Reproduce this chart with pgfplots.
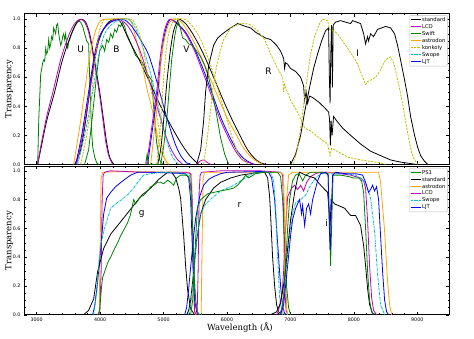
\documentclass[border=0pt]{standalone}
\usepackage{pgfplots}
\pgfplotsset{compat=1.18}
\usepackage{fontspec}
\setmainfont{DejaVu Serif}
\newfontfamily\sansf{DejaVu Sans}
\definecolor{lcoc}{RGB}{191,0,191}
\definecolor{greenc}{RGB}{0,128,0}
\definecolor{orangec}{RGB}{255,165,0}
\definecolor{konkc}{RGB}{191,191,0}
\definecolor{cyanc}{RGB}{0,191,191}
\definecolor{bluec}{RGB}{0,0,255}
\tikzset{
 std/.style={black,line width=0.8pt},
 lco/.style={lcoc,line width=0.8pt},
 swift/.style={greenc,line width=0.8pt},
 astro/.style={orangec,line width=0.8pt},
 konk/.style={konkc,line width=0.8pt,dash pattern=on 2.2pt off 1.2pt},
 swope/.style={cyanc,line width=0.8pt,dash pattern=on 2.6pt off 0.8pt on 0.6pt off 0.8pt},
 ljt/.style={bluec,line width=0.8pt},
}
\pgfplotsset{
 myax/.style={
  scale only axis, width=425bp,
  xmin=2800, xmax=9500, ymin=0,
  xtick={3000,4000,5000,6000,7000,8000,9000},
  ytick={0,0.2,0.4,0.6,0.8,1},
  minor x tick num=4, minor y tick num=3,
  tick align=inside, tick pos=both,
  major tick length=3bp, minor tick length=1.5bp,
  tick style={line width=0.4pt,black},
  axis line style={line width=0.5pt},
  ticklabel style={font=\sansf\fontsize{4.8}{5.5}\selectfont},
  /pgf/number format/assume math mode=true,
  /pgf/number format/1000 sep={},
  yticklabel={\pgfmathprintnumber[fixed,fixed zerofill,precision=1]{\tick}},
  scaled x ticks=false,
  ylabel={Transparency},
  every axis y label/.style={at={(axis description cs:-0.035,0.5)},rotate=90,anchor=center,font=\fontsize{8.5}{10}\selectfont},
  legend cell align=left,
  legend image code/.code={\draw[##1] (0bp,0bp) -- (10bp,0bp);},
  legend style={at={(1,1)},anchor=north east,xshift=-1.5bp,yshift=-1.5bp,
   font=\sansf\fontsize{5.3}{6}\selectfont,draw=gray!50,rounded corners=1pt,
   inner sep=0.8pt,row sep=-0.3pt,nodes={inner sep=1pt,text height=4.1pt,text depth=1.2pt}},
 }
}
\begin{document}
\begin{tikzpicture}
\useasboundingbox (0,0) rectangle (474bp,339bp);
% ================= TOP PANEL =================
\begin{axis}[myax, at={(24bp,174.7bp)}, anchor=south west, height=150.6bp, ymax=1.038, xticklabels={}]
% Swift U
\addplot[swift,forget plot] coordinates {(3016,0)(3032,0.3)(3063,0.62)(3095,0.7)(3110,0.72)(3126,0.71)(3142,0.8)(3158,0.76)(3173,0.78)(3189,0.86)(3205,0.8)(3221,0.83)(3236,0.88)(3252,0.86)(3268,0.94)(3284,0.92)(3299,0.9)(3315,0.96)(3331,0.97)(3347,0.9)(3362,0.86)(3378,0.82)(3394,0.84)(3410,0.88)(3426,0.9)(3441,0.86)(3457,0.9)(3473,0.82)(3489,0.8)(3504,0.84)(3536,0.88)(3567,0.92)(3599,0.95)(3630,0.98)(3662,0.99)(3693,0.98)(3725,0.95)(3756,0.9)(3788,0.85)(3819,0.83)(3835,0.6)(3851,0.4)(3867,0.22)(3883,0.12)(3914,0.05)(3946,0.01)(3977,0)};
% standard U
\addplot[std,smooth,forget plot] coordinates {(3016,0)(3063,0.1)(3158,0.3)(3284,0.5)(3394,0.7)(3504,0.85)(3599,0.95)(3662,0.99)(3709,1.0)(3772,0.98)(3835,0.9)(3898,0.75)(3993,0.5)(4056,0.3)(4103,0.15)(4150,0.05)(4213,0)};
% LCO U
\addplot[lco,smooth,forget plot] coordinates {(3016,0)(3063,0.12)(3158,0.33)(3268,0.52)(3378,0.72)(3489,0.87)(3583,0.96)(3646,0.99)(3693,1.0)(3756,0.98)(3819,0.91)(3883,0.77)(3977,0.52)(4040,0.32)(4087,0.16)(4135,0.06)(4198,0)};
% Swift B
\addplot[swift,forget plot] coordinates {(3756,0)(3819,0.1)(3883,0.35)(3946,0.62)(3993,0.78)(4040,0.82)(4072,0.78)(4103,0.86)(4135,0.84)(4166,0.9)(4198,0.87)(4229,0.93)(4261,0.91)(4292,0.96)(4324,0.95)(4355,0.98)(4387,0.95)(4418,0.9)(4450,0.87)(4513,0.8)(4560,0.75)(4607,0.73)(4670,0.7)(4749,0.62)(4812,0.58)(4844,0.4)(4891,0.15)(4938,0.03)(4986,0)};
% standard B
\addplot[std,smooth,forget plot] coordinates {(3599,0)(3693,0.1)(3772,0.3)(3867,0.6)(3946,0.8)(4040,0.92)(4135,0.98)(4229,1.0)(4324,0.98)(4450,0.86)(4639,0.7)(4797,0.55)(4954,0.4)(5112,0.27)(5269,0.15)(5412,0.06)(5553,0)};
% astrodon B
\addplot[astro,smooth,forget plot] coordinates {(3583,0)(3693,0.3)(3819,0.7)(3914,0.9)(4009,0.99)(4166,1.0)(4450,1.0)(4513,0.95)(4592,0.82)(4639,0.74)(4702,0.6)(4749,0.5)(4797,0.42)(4844,0.33)(4907,0.19)(4954,0.1)(5001,0.05)(5080,0)};
% LCO B
\addplot[lco,smooth,forget plot] coordinates {(3630,0)(3725,0.2)(3835,0.5)(3930,0.75)(4009,0.9)(4135,0.97)(4277,1.0)(4403,0.97)(4513,0.9)(4639,0.77)(4734,0.64)(4828,0.5)(4923,0.36)(5017,0.22)(5112,0.11)(5206,0.04)(5301,0)};
% LJT B
\addplot[ljt,smooth,forget plot] coordinates {(3615,0)(3709,0.2)(3819,0.5)(3898,0.72)(3961,0.85)(4056,0.93)(4166,0.98)(4355,1.0)(4481,0.96)(4607,0.88)(4749,0.77)(4828,0.67)(4907,0.55)(5001,0.4)(5080,0.28)(5175,0.15)(5269,0.06)(5364,0.01)(5427,0)};
% Swope B
\addplot[swope,smooth,forget plot] coordinates {(3646,0)(3756,0.2)(3883,0.5)(3977,0.75)(4072,0.9)(4198,0.97)(4355,1.0)(4450,1.0)(4544,0.95)(4639,0.85)(4749,0.7)(4828,0.57)(4907,0.42)(4986,0.27)(5065,0.14)(5143,0.05)(5238,0)};
% konkoly B
\addplot[konk,smooth,forget plot] coordinates {(3693,0)(3788,0.2)(3851,0.4)(3914,0.7)(3977,0.9)(4040,0.98)(4103,1.0)(4481,1.0)(4544,0.97)(4592,0.93)(4639,0.87)(4686,0.78)(4749,0.62)(4797,0.52)(4844,0.44)(4907,0.3)(4954,0.18)(5001,0.07)(5049,0)};
% LJT V
\addplot[ljt,smooth,forget plot] coordinates {(4749,0)(4812,0.2)(4860,0.35)(4907,0.5)(4954,0.7)(5001,0.86)(5049,0.95)(5112,1.0)(5222,0.97)(5364,0.9)(5506,0.78)(5648,0.63)(5789,0.46)(5915,0.31)(6042,0.19)(6152,0.1)(6263,0.04)(6373,0.01)(6436,0)};
% LCO V
\addplot[lco,smooth,forget plot] coordinates {(4734,0)(4797,0.2)(4844,0.35)(4891,0.5)(4938,0.7)(4986,0.86)(5033,0.95)(5096,1.0)(5206,0.97)(5348,0.9)(5490,0.78)(5632,0.62)(5774,0.45)(5900,0.3)(6026,0.18)(6136,0.09)(6247,0.03)(6357,0.01)(6420,0)};
\addplot[lco,smooth,forget plot] coordinates {(5522,0)(5569,0.02)(5632,0.03)(5695,0.01)(5742,0)};
% standard V
\addplot[std,smooth,forget plot] coordinates {(4907,0)(4954,0.1)(5001,0.3)(5049,0.55)(5080,0.68)(5112,0.8)(5159,0.92)(5222,0.99)(5254,1.0)(5348,0.97)(5459,0.9)(5585,0.8)(5711,0.68)(5837,0.55)(5963,0.42)(6089,0.3)(6215,0.19)(6325,0.1)(6436,0.04)(6530,0.01)(6609,0)};
% astrodon V
\addplot[astro,smooth,forget plot] coordinates {(4797,0)(4860,0.25)(4923,0.5)(4970,0.75)(5033,0.9)(5096,0.98)(5159,1.0)(5222,1.0)(5317,0.96)(5459,0.86)(5616,0.72)(5758,0.57)(5900,0.42)(6026,0.3)(6152,0.2)(6278,0.1)(6436,0.03)(6562,0)};
% konkoly V
\addplot[konk,smooth,forget plot] coordinates {(4891,0)(4938,0.2)(4986,0.5)(5033,0.75)(5080,0.9)(5143,0.98)(5206,1.0)(5333,1.0)(5459,0.95)(5585,0.86)(5711,0.72)(5837,0.55)(5963,0.36)(6057,0.22)(6152,0.1)(6247,0.03)(6341,0)};
% Swift V
\addplot[swift,forget plot] coordinates {(4718,0)(4741,0.07)(4765,0)(4954,0)(5001,0.12)(5049,0.3)(5096,0.55)(5128,0.72)(5175,0.88)(5206,0.95)(5238,0.98)(5269,0.93)(5301,0.87)(5348,0.86)(5396,0.83)(5459,0.82)(5522,0.78)(5585,0.74)(5648,0.68)(5711,0.6)(5774,0.48)(5837,0.34)(5900,0.18)(5963,0.07)(6026,0)};
% standard R
\addplot[std,forget plot] coordinates {(5522,0)(5585,0.1)(5632,0.3)(5663,0.5)(5711,0.68)(5789,0.82)(5852,0.87)(5931,0.9)(6057,0.94)(6168,0.97)(6294,0.95)(6373,0.94)(6451,0.91)(6530,0.89)(6609,0.87)(6688,0.86)(6782,0.82)(6845,0.78)(6893,0.73)(6908,0.66)(6924,0.7)(6956,0.69)(7003,0.66)(7082,0.64)(7161,0.6)(7208,0.54)(7224,0.44)(7247,0.5)(7271,0.42)(7302,0.47)(7350,0.46)(7444,0.43)(7539,0.39)(7602,0.36)(7617,0.31)(7630,0.13)(7641,0.3)(7657,0.2)(7680,0.33)(7728,0.3)(7822,0.25)(7948,0.2)(8106,0.14)(8264,0.09)(8421,0.06)(8579,0.03)(8736,0.015)(8894,0.005)(8973,0)};
% konkoly R
\addplot[konk,forget plot] coordinates {(5632,0)(5695,0.2)(5742,0.38)(5774,0.51)(5837,0.68)(5900,0.79)(5947,0.86)(6057,0.94)(6152,0.96)(6215,0.97)(6294,0.97)(6373,0.96)(6483,0.92)(6593,0.86)(6688,0.76)(6798,0.66)(6877,0.6)(6893,0.5)(6908,0.55)(7003,0.44)(7113,0.36)(7224,0.25)(7318,0.23)(7428,0.19)(7586,0.14)(7625,0.06)(7649,0.11)(7696,0.1)(7901,0.05)(8106,0.03)(8264,0.02)(8421,0.01)(8500,0)};
% standard I
\addplot[std,forget plot] coordinates {(7003,0)(7082,0.07)(7161,0.2)(7224,0.36)(7302,0.53)(7365,0.66)(7428,0.76)(7491,0.85)(7554,0.92)(7602,0.94)(7614,0.6)(7625,0.42)(7636,0.75)(7649,0.96)(7662,0.53)(7674,0.96)(7712,0.98)(7791,0.99)(7869,0.98)(7948,0.97)(7980,0.99)(8043,0.98)(8106,0.97)(8154,0.9)(8185,0.83)(8217,0.88)(8232,0.85)(8264,0.9)(8311,0.88)(8374,0.93)(8500,0.95)(8579,0.94)(8642,0.9)(8689,0.82)(8736,0.72)(8800,0.58)(8847,0.47)(8894,0.33)(8957,0.2)(9004,0.12)(9052,0.06)(9115,0.02)(9162,0)};
% konkoly I
\addplot[konk,forget plot] coordinates {(7034,0)(7097,0.08)(7145,0.2)(7192,0.35)(7224,0.47)(7271,0.62)(7318,0.76)(7381,0.88)(7460,0.97)(7507,1.0)(7586,0.99)(7617,0.93)(7680,0.92)(7743,0.9)(7822,0.85)(7901,0.8)(7980,0.75)(8059,0.69)(8122,0.62)(8185,0.55)(8217,0.57)(8264,0.58)(8343,0.6)(8406,0.64)(8500,0.72)(8579,0.74)(8626,0.7)(8673,0.62)(8721,0.52)(8768,0.42)(8815,0.3)(8863,0.18)(8910,0.08)(8957,0.03)(9004,0)};
\node[font=\sansf\fontsize{9}{10}\selectfont] at (axis cs:3693,0.79) {U};
\node[font=\sansf\fontsize{9}{10}\selectfont] at (axis cs:4256,0.795) {B};
\node[font=\sansf\fontsize{9}{10}\selectfont] at (axis cs:5359,0.795) {V};
\node[font=\sansf\fontsize{9}{10}\selectfont] at (axis cs:6656,0.64) {R};
\node[font=\sansf\fontsize{9}{10}\selectfont] at (axis cs:8059,0.765) {I};
\addlegendimage{std}\addlegendentry{standard}
\addlegendimage{lco}\addlegendentry{LCO}
\addlegendimage{swift}\addlegendentry{Swift}
\addlegendimage{astro}\addlegendentry{astrodon}
\addlegendimage{konk}\addlegendentry{konkoly}
\addlegendimage{swope}\addlegendentry{Swope}
\addlegendimage{ljt}\addlegendentry{LJT}
\end{axis}
% ================= BOTTOM PANEL =================
\begin{axis}[myax, at={(24bp,24.3bp)}, anchor=south west, height=148.2bp, ymax=1.03,
 xlabel={Wavelength (Å)},
 every axis x label/.style={at={(axis description cs:0.508,0)},anchor=center,yshift=-12.5bp,font=\fontsize{8.5}{10}\selectfont}]
% g band
\addplot[astro,forget plot] coordinates {(3985,0)(4001,0.5)(4016,0.95)(4040,0.99)(4324,0.995)(5396,0.99)(5443,0.97)(5467,0.5)(5482,0.05)(5506,0)};
\addplot[lco,forget plot] coordinates {(3993,0)(4016,0.3)(4032,0.8)(4048,0.97)(4072,0.99)(4166,1.0)(4639,0.99)(4954,0.99)(5348,0.99)(5427,0.98)(5451,0.8)(5467,0.3)(5490,0.02)(5522,0)};
\addplot[ljt,forget plot] coordinates {(3883,0)(3914,0.06)(3961,0.23)(4009,0.46)(4056,0.7)(4103,0.81)(4166,0.85)(4245,0.89)(4371,0.935)(4481,0.97)(4592,0.99)(4797,0.99)(5112,0.985)(5348,0.98)(5396,0.95)(5427,0.8)(5459,0.4)(5490,0.1)(5522,0.02)(5553,0)};
\addplot[std,forget plot] coordinates {(3741,0)(3819,0.03)(3898,0.11)(3961,0.3)(4056,0.46)(4166,0.56)(4277,0.62)(4403,0.69)(4529,0.76)(4655,0.83)(4797,0.88)(4923,0.94)(5065,0.99)(5128,0.99)(5191,0.95)(5238,0.88)(5269,0.81)(5317,0.55)(5348,0.34)(5380,0.17)(5427,0.04)(5490,0)};
\addplot[swope,forget plot] coordinates {(3898,0)(3946,0.15)(3977,0.35)(4009,0.48)(4056,0.58)(4119,0.67)(4166,0.74)(4277,0.78)(4371,0.81)(4450,0.84)(4529,0.88)(4607,0.93)(4686,0.97)(4797,0.98)(4954,0.99)(5269,0.985)(5412,0.97)(5443,0.8)(5475,0.4)(5506,0.1)(5538,0.02)(5569,0)};
\addplot[swift,forget plot] coordinates {(3961,0)(3993,0.03)(4009,0.12)(4024,0.2)(4040,0.26)(4072,0.3)(4119,0.36)(4166,0.4)(4229,0.46)(4277,0.5)(4324,0.55)(4387,0.6)(4434,0.64)(4481,0.7)(4529,0.8)(4560,0.77)(4592,0.79)(4639,0.82)(4686,0.83)(4749,0.86)(4797,0.89)(4844,0.9)(4907,0.92)(4954,0.92)(5001,0.91)(5065,0.935)(5112,0.92)(5159,0.9)(5206,0.95)(5269,0.97)(5348,0.97)(5396,0.96)(5427,0.9)(5459,0.6)(5490,0.2)(5522,0.03)(5553,0)};
% r band
\addplot[lco,forget plot] coordinates {(5529,0)(5545,0.3)(5561,0.85)(5577,0.97)(5600,0.99)(5900,1.0)(6530,1.0)(6845,0.99)(6877,0.97)(6893,0.7)(6908,0.2)(6932,0.03)(6956,0)};
\addplot[astro,forget plot] coordinates {(5593,0)(5608,0.5)(5624,0.95)(5648,0.99)(6845,0.99)(6893,0.97)(6916,0.5)(6940,0.05)(6956,0)};
\addplot[ljt,forget plot] coordinates {(5333,0)(5364,0.05)(5396,0.18)(5427,0.33)(5475,0.55)(5506,0.67)(5569,0.82)(5632,0.9)(5711,0.94)(5789,0.96)(5900,0.98)(6010,0.99)(6530,0.995)(6656,0.99)(6704,0.95)(6751,0.8)(6798,0.5)(6845,0.2)(6877,0.06)(6908,0.01)(6940,0)};
\addplot[std,forget plot] coordinates {(5364,0)(5396,0.03)(5427,0.1)(5475,0.3)(5522,0.52)(5585,0.7)(5663,0.8)(5789,0.88)(5900,0.92)(6057,0.95)(6215,0.97)(6373,0.98)(6483,0.99)(6593,0.99)(6641,0.95)(6672,0.82)(6688,0.69)(6719,0.4)(6751,0.2)(6782,0.07)(6814,0.02)(6861,0)};
\addplot[swope,forget plot] coordinates {(5396,0)(5427,0.06)(5459,0.2)(5506,0.45)(5553,0.62)(5585,0.7)(5663,0.77)(5789,0.82)(5900,0.86)(6010,0.88)(6105,0.9)(6215,0.93)(6325,0.96)(6436,0.99)(6688,0.99)(6735,0.93)(6767,0.75)(6798,0.4)(6830,0.12)(6861,0.03)(6908,0)};
\addplot[swift,forget plot] coordinates {(5427,0)(5459,0.1)(5490,0.4)(5522,0.65)(5538,0.75)(5585,0.8)(5695,0.84)(5789,0.85)(5900,0.86)(6010,0.87)(6105,0.88)(6168,0.9)(6247,0.94)(6294,0.97)(6341,0.95)(6373,0.96)(6451,0.98)(6593,0.99)(6798,0.99)(6845,0.96)(6877,0.8)(6908,0.5)(6940,0.2)(6971,0.05)(7003,0)};
% i band
\addplot[lco,forget plot] coordinates {(6782,0)(6814,0.03)(6845,0.1)(6869,0.15)(6893,0.3)(6924,0.6)(6956,0.82)(6987,0.85)(7019,0.88)(7066,0.9)(7113,0.87)(7161,0.9)(7208,0.86)(7255,0.92)(7318,0.96)(7397,0.98)(7476,0.99)(7602,0.99)(7791,0.98)(7948,0.97)(8027,0.96)(8106,0.95)(8154,0.93)(8185,0.88)(8217,0.65)(8248,0.34)(8280,0.12)(8311,0.03)(8358,0)};
\addplot[astro,forget plot] coordinates {(6877,0)(6908,0.3)(6940,0.8)(6971,0.97)(7034,0.99)(8390,0.99)(8421,0.92)(8453,0.75)(8485,0.58)(8532,0.23)(8563,0.07)(8595,0)};
\addplot[swope,forget plot] coordinates {(6845,0)(6893,0.1)(6940,0.35)(6987,0.55)(7034,0.7)(7082,0.78)(7161,0.8)(7239,0.83)(7318,0.9)(7397,0.95)(7476,0.98)(7633,0.98)(7869,0.98)(8027,0.97)(8138,0.94)(8201,0.9)(8264,0.81)(8327,0.58)(8374,0.28)(8421,0.07)(8485,0)};
\addplot[std,forget plot] coordinates {(6688,0)(6782,0.02)(6845,0.08)(6908,0.25)(6956,0.46)(7003,0.66)(7066,0.85)(7113,0.95)(7145,0.99)(7239,0.97)(7381,0.95)(7476,0.9)(7586,0.85)(7614,0.7)(7627,0.62)(7641,0.8)(7696,0.77)(7854,0.74)(7948,0.69)(8027,0.69)(8106,0.62)(8154,0.48)(8185,0.34)(8217,0.18)(8248,0.07)(8295,0.01)(8343,0)};
\addplot[swift,forget plot] coordinates {(6830,0)(6861,0.04)(6893,0.12)(6924,0.35)(6956,0.6)(6987,0.8)(7034,0.93)(7082,0.97)(7129,0.98)(7161,0.96)(7192,0.93)(7239,0.97)(7318,0.99)(7476,0.99)(7594,0.98)(7617,0.6)(7633,0.34)(7649,0.6)(7672,0.97)(7791,0.97)(7917,0.96)(7996,0.95)(8075,0.95)(8122,0.93)(8154,0.85)(8185,0.6)(8217,0.3)(8248,0.1)(8280,0.02)(8311,0)};
\addplot[ljt,forget plot] coordinates {(6845,0)(6893,0.07)(6956,0.34)(7003,0.55)(7034,0.66)(7082,0.74)(7113,0.77)(7145,0.8)(7176,0.7)(7192,0.76)(7224,0.62)(7255,0.74)(7287,0.77)(7318,0.7)(7350,0.8)(7381,0.85)(7428,0.93)(7476,0.98)(7554,0.99)(7594,0.97)(7614,0.6)(7627,0.45)(7643,0.7)(7665,0.97)(7712,0.99)(7869,0.98)(8027,0.98)(8138,0.97)(8185,0.92)(8232,0.85)(8264,0.87)(8295,0.9)(8327,0.86)(8358,0.89)(8390,0.8)(8421,0.55)(8453,0.3)(8485,0.1)(8516,0.02)(8548,0)};
\node[font=\sansf\fontsize{9}{10}\selectfont] at (axis cs:4655,0.70) {g};
\node[font=\sansf\fontsize{9}{10}\selectfont] at (axis cs:6195,0.76) {r};
\node[font=\sansf\fontsize{9}{10}\selectfont] at (axis cs:7570,0.64) {i};
\addlegendimage{swift}\addlegendentry{PS1}
\addlegendimage{std}\addlegendentry{standard}
\addlegendimage{astro}\addlegendentry{astrodon}
\addlegendimage{lco}\addlegendentry{LCO}
\addlegendimage{swope}\addlegendentry{Swope}
\addlegendimage{ljt}\addlegendentry{LJT}
\end{axis}
\end{tikzpicture}
\end{document}
